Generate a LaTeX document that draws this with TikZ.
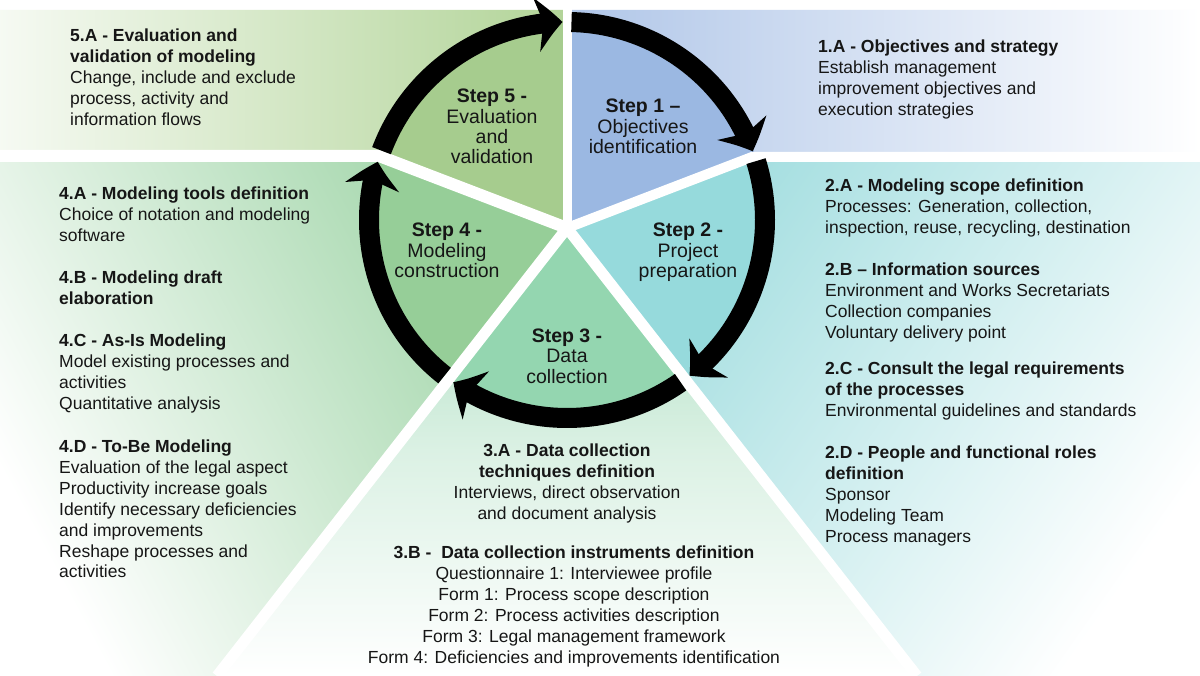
\documentclass[tikz,border=0pt]{standalone}
\usepackage{fontspec}
\setmainfont{Liberation Sans}
\usetikzlibrary{arrows.meta,bending}
\definecolor{ink}{RGB}{22,22,22}
\definecolor{rone}{RGB}{176,198,232}
\definecolor{sone}{RGB}{155,184,226}
\definecolor{rtwo}{RGB}{158,220,222}
\definecolor{stwo}{RGB}{150,218,220}
\definecolor{rthree}{RGB}{166,220,188}
\definecolor{sthree}{RGB}{148,214,176}
\definecolor{rfour}{RGB}{158,212,166}
\definecolor{sfour}{RGB}{150,206,152}
\definecolor{rfive}{RGB}{178,212,152}
\definecolor{sfive}{RGB}{166,204,142}
\newcommand{\lblock}[1]{\begin{tabular}[t]{@{}l@{}}#1\end{tabular}}
\newcommand{\cblock}[1]{\begin{tabular}[t]{@{}c@{}}#1\end{tabular}}
\tikzset{
  body/.style={anchor=base west, inner sep=0pt, text=ink, font=\fontsize{17.5}{21}\selectfont},
  bodyc/.style={anchor=base, inner sep=0pt, text=ink, font=\fontsize{17.5}{21}\selectfont},
  steplbl/.style={anchor=base, inner sep=0pt, text=ink, font=\fontsize{19.5}{20}\selectfont},
  gapline/.style={draw=white, line width=#1, line cap=butt, line join=miter},
  ringarrow/.style={draw=black, line width=20pt, line cap=butt,
    -{Stealth[length=26pt,width=54pt,inset=7pt,bend]}}
}
\begin{document}
\begin{tikzpicture}[x=1pt,y=1pt]
\useasboundingbox (0,0) rectangle (1200,-676);
\fill[white] (0,0) rectangle (1200,-676);
% key points
\coordinate (Cr) at (567,-220);
\coordinate (P0) at (567,-228);
\coordinate (Atop) at (567,0);
\coordinate (Bk) at (752,-157);
\coordinate (Bend) at (1200,-157);
\coordinate (Ek) at (379,-156);
\coordinate (Eend) at (0,-156);
\coordinate (Cend) at (917,-676);
\coordinate (Dend) at (217,-676);
% outer regions
\shade[left color=rone, right color=white] (567,-10) -- (1200,-10) -- (Bend) -- (Bk) -- (P0) -- cycle;
\shade[left color=rfive!12, right color=rfive] (0,-10) -- (567,-10) -- (P0) -- (Ek) -- (Eend) -- cycle;
\shade[top color=rfour, bottom color=white, shading angle=-62] (Eend) -- (Ek) -- (P0) -- (Dend) -- (0,-676) -- cycle;
\shade[top color=rthree, bottom color=white, middle color=rthree!40] (P0) -- (Cend) -- (Dend) -- cycle;
\shade[top color=rtwo, bottom color=white, shading angle=55] (P0) -- (Bk) -- (Bend) -- (1200,-676) -- (Cend) -- cycle;
% pie sectors
\begin{scope}
  \clip (Cr) circle[radius=199];
  \fill[sone] (P0) -- ++(90:450) arc[start angle=90, end angle=21, radius=450] -- cycle;
  \fill[stwo] (P0) -- ++(21:450) arc[start angle=21, end angle=-52, radius=450] -- cycle;
  \fill[sthree] (P0) -- ++(-52:450) arc[start angle=-52, end angle=-128, radius=450] -- cycle;
  \fill[sfour] (P0) -- ++(-128:450) arc[start angle=-128, end angle=-201, radius=450] -- cycle;
  \fill[sfive] (P0) -- ++(159:450) arc[start angle=159, end angle=90, radius=450] -- cycle;
\end{scope}
% white gaps
\draw[gapline=9] (P0) -- (Atop);
\draw[gapline=10] (P0) -- (Bk) -- (Bend);
\draw[gapline=12] (P0) -- (Ek) -- (Eend);
\draw[gapline=11] (P0) -- (Cend);
\draw[gapline=11] (P0) -- (Dend);
\fill[white] (P0) circle[radius=5];
% ring arrows
\draw[ringarrow] ([shift={(88.7:198)}]Cr) arc[start angle=88.7, end angle=20.3, radius=198];
\draw[ringarrow] ([shift={(17.3:198)}]Cr) arc[start angle=17.3, end angle=-51.8, radius=198];
\draw[ringarrow] ([shift={(-55:198)}]Cr) arc[start angle=-55, end angle=-125, radius=198];
\draw[ringarrow] ([shift={(-128.2:198)}]Cr) arc[start angle=-128.2, end angle=-197.1, radius=198];
\draw[ringarrow] ([shift={(159.5:198)}]Cr) arc[start angle=159.5, end angle=91.3, radius=198];
% step labels
\node[steplbl] (s1) at (643,-113) {\cblock{\textbf{Step 1 –}\\ Objectives\\ identification}};
\node[steplbl] (s2) at (688,-237) {\cblock{\textbf{Step 2 -}\\ Project\\ preparation}};
\node[steplbl] (s3) at (567,-343) {\cblock{\textbf{Step 3 -}\\ Data\\ collection}};
\node[steplbl] (s4) at (447,-237) {\cblock{\textbf{Step 4 -}\\ Modeling\\ construction}};
\node[steplbl] (s5) at (492,-103) {\cblock{\textbf{Step 5 -}\\ Evaluation\\ and\\ validation}};
% description blocks
\node[body] (t1a) at (818,-53) {\lblock{\textbf{1.A - Objectives and strategy}\\ Establish management\\ improvement objectives and\\ execution strategies}};
\node[body] (t2a) at (825,-192) {\lblock{\textbf{2.A - Modeling scope definition}\\ Processes: Generation, collection,\\ inspection, reuse, recycling, destination}};
\node[body] (t2b) at (825,-276) {\lblock{\textbf{2.B – Information sources}\\ Environment and Works Secretariats\\ Collection companies\\ Voluntary delivery point}};
\node[body] (t2c) at (825,-374) {\lblock{\textbf{2.C - Consult the legal requirements}\\ \textbf{of the processes}\\ Environmental guidelines and standards}};
\node[body] (t2d) at (825,-458) {\lblock{\textbf{2.D - People and functional roles}\\ \textbf{definition}\\ Sponsor\\ Modeling Team\\ Process managers}};
\node[bodyc] (t3a) at (567,-456) {\cblock{\textbf{3.A - Data collection}\\ \textbf{techniques definition}\\ Interviews, direct observation\\ and document analysis}};
\node[bodyc] (t3b) at (574,-558) {\cblock{\textbf{3.B -\ \ Data collection instruments definition}\\ Questionnaire 1: Interviewee profile\\ Form 1: Process scope description\\ Form 2: Process activities description\\ Form 3: Legal management framework\\ Form 4: Deficiencies and improvements identification}};
\node[body] (t4a) at (59,-200) {\lblock{\textbf{4.A - Modeling tools definition}\\ Choice of notation and modeling\\ software}};
\node[body] (t4b) at (59,-284) {\lblock{\textbf{4.B - Modeling draft}\\ \textbf{elaboration}}};
\node[body] (t4c) at (59,-347) {\lblock{\textbf{4.C - As-Is Modeling}\\ Model existing processes and\\ activities\\ Quantitative analysis}};
\node[body] (t4d) at (59,-452) {\lblock{\textbf{4.D - To-Be Modeling}\\ Evaluation of the legal aspect\\ Productivity increase goals\\ Identify necessary deficiencies\\ and improvements\\ Reshape processes and\\ activities}};
\node[body] (t5a) at (70,-42) {\lblock{\textbf{5.A - Evaluation and}\\ \textbf{validation of modeling}\\ Change, include and exclude\\ process, activity and\\ information flows}};
\end{tikzpicture}
\end{document}
